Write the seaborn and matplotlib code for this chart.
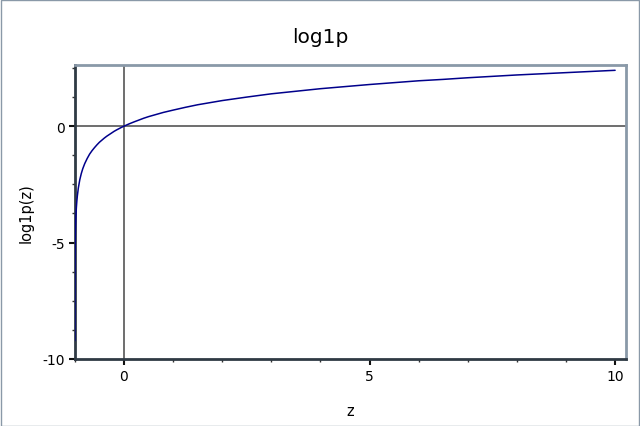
import numpy as np
import pandas as pd
import matplotlib
matplotlib.use("Agg")
import matplotlib.pyplot as plt
import seaborn as sns
from matplotlib.ticker import MultipleLocator, FixedLocator, FuncFormatter
from matplotlib.patches import Rectangle

# --------------------
# Data
# --------------------
z_vals = [-0.9999, -0.9995, -0.999, -0.998, -0.995, -0.99, -0.985, -0.98, -0.97,
          -0.96, -0.95, -0.93, -0.9, -0.87, -0.84, -0.8, -0.75, -0.7, -0.65,
          -0.6, -0.55, -0.5, -0.45, -0.4, -0.35, -0.3, -0.25, -0.2, -0.15,
          -0.1, -0.05, 0.0, 0.1, 0.2, 0.3, 0.4, 0.5, 0.65, 0.8, 1.0, 1.25,
          1.5, 1.75, 2.0, 2.5, 3.0, 3.5, 4.0, 4.5, 5.0, 5.5, 6.0, 6.5, 7.0,
          7.5, 8.0, 8.5, 9.0, 9.5, 10.0]
y_vals = [-9.21, -7.60, -6.91, -6.21, -5.30, -4.61, -4.20, -3.91, -3.51,
          -3.22, -3.00, -2.66, -2.30, -2.04, -1.83, -1.61, -1.39, -1.20, -1.05,
          -0.92, -0.80, -0.69, -0.60, -0.51, -0.43, -0.36, -0.29, -0.22, -0.16,
          -0.105, -0.05, 0.0, 0.095, 0.18, 0.26, 0.34, 0.41, 0.50, 0.59, 0.69, 0.81,
          0.92, 1.01, 1.10, 1.25, 1.39, 1.50, 1.61, 1.70, 1.79, 1.87, 1.95, 2.01, 2.08,
          2.14, 2.20, 2.25, 2.30, 2.35, 2.40]

x_major = [0, 5, 10]
y_major = [-10, -5, 0]

df = pd.DataFrame({"z": z_vals, "log1p": y_vals})

sns.set_style("white")
plt.rcParams["font.family"] = ["DejaVu Sans"]
plt.rcParams["text.color"] = "black"
plt.rcParams["axes.labelcolor"] = "black"
plt.rcParams["xtick.color"] = "black"
plt.rcParams["ytick.color"] = "black"

fig = plt.figure(figsize=(6.4, 4.27), dpi=100)
ax = fig.add_axes([0.117, 0.157, 0.861, 0.688])

# zero lines
ax.axhline(0, color="#555555", lw=1.2, zorder=1)
ax.axvline(0, color="#555555", lw=1.2, zorder=1)

sns.lineplot(data=df, x="z", y="log1p", sort=False, color="#00008b", lw=1.1, ax=ax, zorder=3)

ax.set_xlim(-1.0, 10.22)
ax.set_ylim(-10, 2.62)

ax.xaxis.set_major_locator(FixedLocator(x_major))
ax.yaxis.set_major_locator(FixedLocator(y_major))
ax.xaxis.set_minor_locator(MultipleLocator(1))
ax.yaxis.set_minor_locator(MultipleLocator(1.25))
fmt = FuncFormatter(lambda v, p: f"{v:g}".replace("\u2212", "-"))
ax.xaxis.set_major_formatter(fmt)
ax.yaxis.set_major_formatter(fmt)
ax.tick_params(which="major", direction="out", length=4, width=1.5, color="#111111",
               labelsize=10, labelcolor="black", pad=3, bottom=True, left=True)
ax.tick_params(which="minor", direction="out", length=2, width=1, color="#333333",
               bottom=True, left=True)

for s in ["left", "bottom"]:
    ax.spines[s].set_color("#2f3a44")
    ax.spines[s].set_linewidth(2)
for s in ["top", "right"]:
    ax.spines[s].set_color("#8a99a8")
    ax.spines[s].set_linewidth(2)

ax.set_xlabel("z", fontsize=10.5, color="black")
ax.set_ylabel("log1p(z)", fontsize=10.5, color="black")
ax.xaxis.set_label_coords(0.5, -0.15)
ax.yaxis.set_label_coords(-0.075, 0.5)

fig.text(0.5, 0.913, "log1p", ha="center", va="center", fontsize=14.5, color="black")

# outer frame
fig.patches.append(Rectangle((0.001, 0.001), 0.997, 0.996, transform=fig.transFigure,
                             fill=False, edgecolor="#8a99a8", lw=1))

fig.savefig("out.png", dpi=100)
